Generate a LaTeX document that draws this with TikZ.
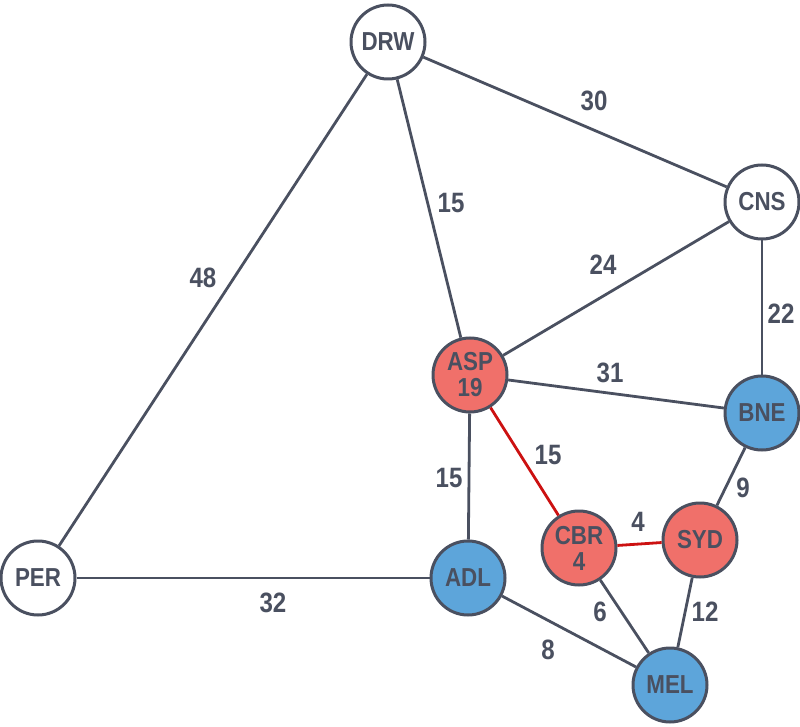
\documentclass[tikz,border=0pt]{standalone}
\usepackage{fontspec}
\setmainfont{Liberation Sans}[FakeStretch=0.86]
\definecolor{ink}{HTML}{4A5060}
\definecolor{redfill}{HTML}{F0706A}
\definecolor{bluefill}{HTML}{5DA5DA}
\definecolor{rededge}{HTML}{CC1111}
\begin{document}
\begin{tikzpicture}[x=1pt,y=-1pt,
  city/.style={circle,draw=ink,line width=3pt,minimum size=74pt,inner sep=0pt,
    text=ink,font=\fontsize{26}{26}\selectfont\bfseries,align=center},
  white city/.style={city,fill=white},
  red city/.style={city,fill=redfill},
  blue city/.style={city,fill=bluefill},
  edge/.style={draw=ink,line width=2.8pt},
  redge/.style={draw=rededge,line width=2.8pt},
  wlabel/.style={text=ink,font=\fontsize{28}{28}\selectfont\bfseries,inner sep=0pt}]
\useasboundingbox (0,0) rectangle (800,727);
\node[white city] (DRW) at (388,42) {DRW};
\node[white city] (CNS) at (762,202) {CNS};
\node[red city] (ASP) at (470,375) {ASP\\19};
\node[blue city] (BNE) at (762,413) {BNE};
\node[white city] (PER) at (38,578) {PER};
\node[blue city] (ADL) at (468,578) {ADL};
\node[red city] (CBR) at (579,548) {CBR\\4};
\node[red city] (SYD) at (700,540) {SYD};
\node[blue city] (MEL) at (670,685) {MEL};
\path[edge] (DRW) -- (CNS);
\path[edge] (DRW) -- (ASP);
\path[edge] (DRW) -- (PER);
\path[edge] (CNS) -- (ASP);
\path[edge] (CNS) -- (BNE);
\path[edge] (ASP) -- (BNE);
\path[redge] (ASP) -- (CBR);
\path[edge] (ASP) -- (ADL);
\path[edge] (BNE) -- (SYD);
\path[redge] (CBR) -- (SYD);
\path[edge] (PER) -- (ADL);
\path[edge] (CBR) -- (MEL);
\path[edge] (SYD) -- (MEL);
\path[edge] (ADL) -- (MEL);
\node[wlabel] (l1) at (594,101) {30};
\node[wlabel] (l2) at (451,203) {15};
\node[wlabel] (l3) at (203,278) {48};
\node[wlabel] (l4) at (603,265) {24};
\node[wlabel] (l5) at (781,314) {22};
\node[wlabel] (l6) at (610,373) {31};
\node[wlabel] (l7) at (548,455) {15};
\node[wlabel] (l8) at (449,478) {15};
\node[wlabel] (l9) at (743,488) {9};
\node[wlabel] (l10) at (638,522) {4};
\node[wlabel] (l11) at (273,603) {32};
\node[wlabel] (l12) at (600,612) {6};
\node[wlabel] (l13) at (705,612) {12};
\node[wlabel] (l14) at (548,650) {8};
\end{tikzpicture}
\end{document}
